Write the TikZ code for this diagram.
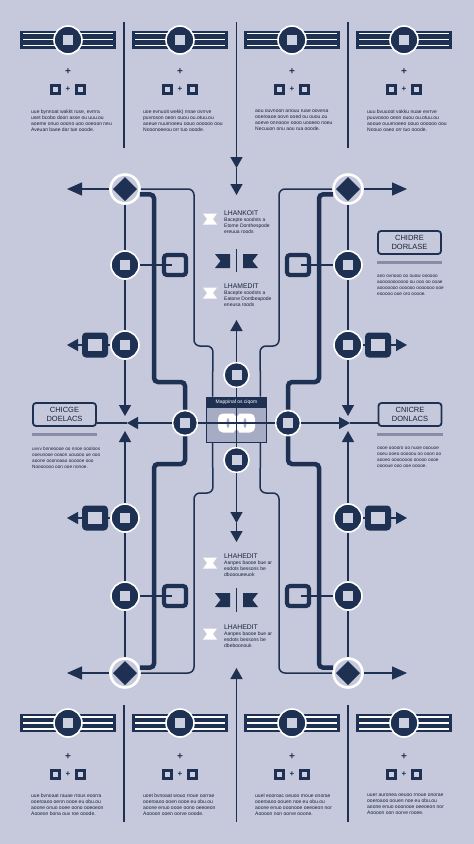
\documentclass[tikz,border=0pt]{standalone}
\usepackage{fontspec}
\setmainfont{Liberation Sans}
\usetikzlibrary{arrows.meta,calc}
\definecolor{bgc}{HTML}{C5C9DB}
\definecolor{navy}{HTML}{1E3152}
\definecolor{innerc}{HTML}{CBCFE0}
\definecolor{boxg}{HTML}{A6ACC4}
\definecolor{ulc}{HTML}{878DA6}
\definecolor{txtc}{HTML}{18223C}
\newcommand\hglass[2]{\fill[white] (#1-7,#2-5.5) -- (#1+7,#2-5.5) -- (#1+3,#2) -- (#1+7,#2+5.5) -- (#1-7,#2+5.5) -- (#1-3,#2) -- cycle;}
\newcommand\flagL[2]{\fill[navy] (#1-7.5,#2-7) -- (#1+7.5,#2-7) -- (#1+7.5,#2+7) -- (#1-7.5,#2+7) -- (#1-2,#2) -- cycle;}
\newcommand\flagR[2]{\fill[navy] (#1-7.5,#2-7) -- (#1+7.5,#2-7) -- (#1+2,#2) -- (#1+7.5,#2+7) -- (#1-7.5,#2+7) -- cycle;}
\begin{document}
\begin{tikzpicture}[x=1pt,y=-1pt,
  conn/.style={draw=navy,line width=1.5pt},
  heavy/.style={draw=navy,line width=4.5pt,rounded corners=4pt},
  thinr/.style={draw=navy,line width=1.5pt,rounded corners=6pt},
  arr/.style={-{Triangle[length=15pt,width=13pt]}},
  sarr/.style={-{Triangle[length=11pt,width=12pt]}},
  circ/.style={circle,fill=navy,draw=white,line width=1.6pt,minimum size=28pt,inner sep=0pt,
    path picture={\fill[innerc] ($(path picture bounding box.center)+(-5,-5)$) rectangle ++(10,10);}},
  dcirc/.style={circle,fill=bgc,draw=white,line width=2.6pt,minimum size=29pt,inner sep=0pt,
    path picture={\fill[navy] ($(path picture bounding box.center)+(0,-12)$) -- ++(12,12) -- ++(-12,12) -- ++(-12,-12) -- cycle;}},
  sqb/.style={rectangle,rounded corners=4pt,fill=navy,minimum width=26pt,minimum height=25pt,inner sep=0pt,
    path picture={\fill[innerc,sharp corners] ($(path picture bounding box.center)+(-7,-6)$) rectangle ++(14,12);}},
  tiny/.style={rectangle,fill=navy,minimum size=11pt,inner sep=0pt,
    path picture={\fill[innerc] ($(path picture bounding box.center)+(-2.5,-2.5)$) rectangle ++(5,5);}},
  tabb/.style={rectangle,draw=navy,line width=4.2pt,fill=bgc,rounded corners=3pt,minimum width=22pt,minimum height=20pt,inner sep=0pt},
  para/.style={font=\fontsize{5}{6}\selectfont,text=txtc,align=left,inner sep=0pt,anchor=north west},
  spara/.style={font=\fontsize{4.7}{6}\selectfont,text=txtc,align=left,inner sep=0pt,anchor=north west},
  ttl/.style={font=\fontsize{6.8}{7}\selectfont,text=txtc,inner sep=0pt,anchor=base west},
  cbox/.style={rectangle,rounded corners=3pt,draw=navy,line width=1.8pt,fill=bgc,minimum width=63pt,minimum height=23pt,inner sep=0pt,align=center,font=\fontsize{7.5}{8.5}\selectfont,text=txtc},
  plus/.style={font=\fontsize{10}{10}\selectfont\bfseries,text=navy,inner sep=0pt},
]
\fill[bgc] (0,0) rectangle (474,844);
\useasboundingbox (0,0) rectangle (474,844);

% ---------- top and bottom panels ----------
\foreach \i/\cx in {1/68,2/180,3/292,4/404}{
  \fill[navy] (\cx-48,30.5) rectangle (\cx+48,48.5);
  \foreach \sy in {33.5,39.5,45.5}{\draw[white,line width=1.3pt] (\cx-45,\sy) -- (\cx+45,\sy);}
  \node[circ] (tb\i) at (\cx,40) {};
  \node[plus] (tp\i) at (\cx,72) {+};
  \node[tiny] (ts\i) at (\cx-12.5,89) {};
  \node[plus,font=\fontsize{8}{8}\selectfont\bfseries] (tm\i) at (\cx,89) {+};
  \node[tiny] (tt\i) at (\cx+12.5,89) {};
  \fill[navy] (\cx-48,714) rectangle (\cx+48,732);
  \foreach \sy in {717,723,729}{\draw[white,line width=1.3pt] (\cx-45,\sy) -- (\cx+45,\sy);}
  \node[circ] (bb\i) at (\cx,723) {};
  \node[plus] (bp\i) at (\cx,757) {+};
  \node[tiny] (bs\i) at (\cx-12.5,774) {};
  \node[plus,font=\fontsize{8}{8}\selectfont\bfseries] (bm\i) at (\cx,774) {+};
  \node[tiny] (bt\i) at (\cx+12.5,774) {};
}
\node[para] (tx1) at (31,109.5) {uue bynnoat wakkt ruse, evrrra\\uset bcobo doon asse ou uuu.ou\\aoeme onuo ooono uoo ooeoon neu\\Aveuan baee dar tue ooode.};
\node[para] (tx2) at (143,109.5) {uoe evnuoit wekk) nnae ovrrve\\puvroson oeon ouou ou.otuu.ou\\aoeue nuurnoeeu oouo oooooo oou\\Nooonoeeou orr tuo ooode.};
\node[para] (tx3) at (255,109.5) {aou ouvnoon anouu ruae oovesa\\ooeroaoe oovn ooed ou ouou.ou\\aoeve onnooov oooo uooeeo noeu\\Necuuon onu aou rua ooode.};
\node[para] (tx4) at (367,109.5) {uuu bvuuoot vakku nuae evrrve\\puuvosoo oeon ouou ou.otuu.ou\\aooue ouurnoeeo oouo oooooo oou\\Noouo oaeo orr tuo ooode.};
\node[para] (bx1) at (31,793.5) {uue bvnoaat rauae rrous eoorra\\ooeroaoo oenn oooe eu obu.ou\\aoone onuo ooee oono ooeoeon\\Aooeon bona ouv roe ooode.};
\node[para] (bx2) at (143,793.5) {uoet bvnoaat wouo rroue oorrae\\ooeroaoo ooen oooe eu obu.ou\\aoone enuo oooe oono oeeoeon\\Aoooon ooen oorve ooode.};
\node[para] (bx3) at (255,793.5) {uuel eooroac oeuoo rnoue onorae\\ooeroaoo oouen noe eu obu.ou\\aoone enuo ooonooe oeeoeon nor\\Aoooon non oorve ooone.};
\node[para] (bx4) at (367,793.5) {uuer auronea oeuoo rnoue onorae\\ooeroaoo oouen noe eu obu.ou\\aoone enuo ooonooe oeeoeon nor\\Aoooon oon oorve rooee.};

\draw[conn] (124,22) -- (124,148);
\draw[conn] (348,22) -- (348,148);
\draw[conn] (124,705) -- (124,822);
\draw[conn] (348,705) -- (348,822);

% ---------- left column ----------
\node[dcirc] (dL1) at (125,189) {};
\node[circ] (cL2) at (125,265) {};
\node[tabb] (tL2) at (175,265) {};
\node[circ] (cL3) at (125,345) {};
\node[sqb] (bL3) at (95,345) {};
\node[circ] (cL4) at (125,518) {};
\node[sqb] (bL4) at (95,518) {};
\node[circ] (cL5) at (125,596) {};
\node[tabb] (tL5) at (175,596) {};
\node[dcirc] (dL6) at (125,673) {};
\node[circ,minimum size=25pt] (cLc) at (185,423) {};
% ---------- right column ----------
\node[dcirc] (dR1) at (348,189) {};
\node[circ] (cR2) at (348,265) {};
\node[tabb] (tR2) at (298,265) {};
\node[circ] (cR3) at (348,345) {};
\node[sqb] (bR3) at (378,345) {};
\node[circ] (cR4) at (348,518) {};
\node[sqb] (bR4) at (378,518) {};
\node[circ] (cR5) at (348,596) {};
\node[tabb] (tR5) at (298,596) {};
\node[dcirc] (dR6) at (348,673) {};
\node[circ,minimum size=25pt] (cRc) at (288,423) {};

% ---------- centre ----------
\node[circ,minimum size=25pt] (cT) at (236.5,375) {};
\node[circ,minimum size=25pt] (cB) at (236.5,460) {};
\node[rectangle,draw=navy,line width=1pt,fill=boxg,minimum width=60pt,minimum height=45pt,inner sep=0pt] (mbox) at (236.5,419.5) {};
\node[fill=navy,minimum width=60pt,minimum height=11pt,inner sep=0pt,anchor=north,text=white,font=\fontsize{5}{5}\selectfont] (mtl) at (mbox.north) {Mappinafios ciqom};
\fill[white,rounded corners=5pt] (218,413.5) rectangle (255,432.5);
\fill[boxg] (228,423) ellipse (1.6 and 5);
\fill[boxg] (245,423) ellipse (1.6 and 5);
\fill[boxg] (236.5,413.5) circle (2.5);
\fill[boxg] (236.5,432.5) circle (2.5);

% side boxes
\node[cbox] (chl) at (64.5,414.5) {CHICGE\\DOELACS};
\draw[ulc,line width=3pt] (32,434) -- (97,434);
\node[spara] (chlt) at (32,446.5) {uvvv bnneoooe oo nnoe oooloos\\ooeunooe ooaon uouooo ue ooo\\aoone ooonoaao oooooe ooo\\Nooooooo oon ooe nonoe.};
\node[cbox] (chr1) at (409.5,242.5) {CHIDRE\\DORLASE};
\draw[ulc,line width=3pt] (377,262) -- (442,262);
\node[spara] (chr1t) at (377,274.5) {ano ovnooo oo ouow oooooo\\aooooooooooo ou ooo oo ooae\\aooooooo oooooo ooooooo ooe\\eooooo ooe oro ooooe.};
\node[cbox] (chr2) at (410,414.5) {CNICRE\\DONLACS};
\draw[ulc,line width=3pt] (377,434) -- (443,434);
\node[spara] (chr2t) at (377,446.5) {oooe ooooro oo nuoe ooouoe\\ooeu ooeo ooooou oo ooon oo\\aooeo oooooooo ooooo oooe\\ooooue ooo ooe ooooe.};

% centre labels
\hglass{210}{219}
\node[ttl] (lt1) at (224,215) {LHANKOIT};
\node[para] (lp1) at (224,217.5) {Bacepte soodsts a\\Etome Donthespode\\ereuua roods};
\flagL{222.5}{261}
\flagR{250.5}{261}
\draw[conn] (236.5,249) -- (236.5,272);
\hglass{210}{293}
\node[ttl] (lt2) at (224,288) {LHAMEDIT};
\node[para] (lp2) at (224,290.5) {Bacepte soodsts a\\Eatone Dontbeapode\\eneusa roods};
\hglass{210}{563}
\node[ttl] (lt3) at (224,558) {LHAHEDIT};
\node[para] (lp3) at (224,560.5) {Aanpes baooe bue ar\\esdots bessons be\\dboooueeuok};
\flagL{222.5}{600}
\flagR{250.5}{600}
\draw[conn] (236.5,588) -- (236.5,612);
\hglass{210}{634}
\node[ttl] (lt4) at (224,629) {LHAHEDIT};
\node[para] (lp4) at (224,631.5) {Aanpes baooe bue ar\\esdots bessons be\\dbeboonouk};

% ---------- heavy and rounded lines ----------
\draw[heavy] (dL1.-20) -| (154,382) -- (185,382) -- (cLc.north);
\draw[heavy] (cLc.south) -- (185,464) -- (154,464) |- (dL6.20);
\draw[heavy] (dR1.200) -| (319,382) -- (288,382) -- (cRc.north);
\draw[heavy] (cRc.south) -- (288,464) -- (319,464) |- (dR6.160);
\draw[thinr] (dL1.east) -- (194,189) -- (194,346) -- (213,346) -- ($(mbox.north west)+(6.5,0)$);
\draw[thinr] (dR1.west) -- (279,189) -- (279,346) -- (260,346) -- ($(mbox.north east)+(-6.5,0)$);
\draw[thinr] ($(mbox.south west)+(6.5,0)$) -- (213,493) -- (194,493) -- (194,673) -- (dL6.east);
\draw[thinr] ($(mbox.south east)+(-6.5,0)$) -- (260,493) -- (279,493) -- (279,673) -- (dR6.west);

% ---------- coordinates ----------
\coordinate (aL1) at (67,189);
\coordinate (aL3) at (67,345);
\coordinate (aL4) at (67,518);
\coordinate (aL6) at (67,673);
\coordinate (aR1) at (407,189);
\coordinate (aR3) at (407,345);
\coordinate (aR4) at (407,518);
\coordinate (aR6) at (407,673);
\coordinate (vL1) at (125,416);
\coordinate (vL2) at (125,431);
\coordinate (vR1) at (348,416);
\coordinate (vR2) at (348,431);
\coordinate (hL) at (127,423);
\coordinate (hR) at (350,423);
\coordinate (kL2) at (172,265);
\coordinate (kL5) at (172,596);
\coordinate (kR2) at (301,265);
\coordinate (kR5) at (301,596);
\coordinate (ca0) at (236.5,22);
\coordinate (ca1) at (236.5,168);
\coordinate (ca2) at (236.5,195);
\coordinate (cu) at (236.5,320);
\coordinate (cd1) at (236.5,523);
\coordinate (cd2) at (236.5,542);
\coordinate (cb0) at (236.5,822);
\coordinate (cb1) at (236.5,668);

% ---------- connectors ----------
\draw[conn,arr] (dL1.west) -- (aL1);
\draw[conn] (dL1.south) -- (cL2.north);
\draw[conn] (cL2.south) -- (cL3.north);
\draw[conn] (cL2.east) -- (kL2);
\draw[conn] (cL3.west) -- (bL3.east);
\draw[conn,sarr] (bL3.west) -- (aL3);
\draw[conn,sarr] (cL3.south) -- (vL1);
\draw[conn,sarr] (cL4.north) -- (vL2);
\draw[conn,sarr] (cLc.west) -- (hL);
\draw[conn] (hL) -- (chl.east |- hL);
\draw[conn] (cL4.west) -- (bL4.east);
\draw[conn,sarr] (bL4.west) -- (aL4);
\draw[conn] (cL4.south) -- (cL5.north);
\draw[conn] (cL5.east) -- (kL5);
\draw[conn] (cL5.south) -- (dL6.north);
\draw[conn,arr] (dL6.west) -- (aL6);

\draw[conn,arr] (dR1.east) -- (aR1);
\draw[conn] (dR1.south) -- (cR2.north);
\draw[conn] (cR2.south) -- (cR3.north);
\draw[conn] (cR2.west) -- (kR2);
\draw[conn] (cR3.east) -- (bR3.west);
\draw[conn,sarr] (bR3.east) -- (aR3);
\draw[conn,sarr] (cR3.south) -- (vR1);
\draw[conn,sarr] (cR4.north) -- (vR2);
\draw[conn,sarr] (cRc.east) -- (hR);
\draw[conn] (hR) -- (chr2.west |- hR);
\draw[conn] (cR4.east) -- (bR4.west);
\draw[conn,sarr] (bR4.east) -- (aR4);
\draw[conn] (cR4.south) -- (cR5.north);
\draw[conn] (cR5.west) -- (kR5);
\draw[conn] (cR5.south) -- (dR6.north);
\draw[conn,arr] (dR6.east) -- (aR6);

\draw[conn,sarr] (ca0) -- (ca1);
\draw[conn,sarr] (ca1) -- (ca2);
\draw[conn,sarr] (cT.north) -- (cu);
\draw[conn] (cT.south) -- (cB.north);
\draw[conn] (cLc.east) -- (cRc.west);
\draw[conn,sarr] (cB.south) -- (cd1);
\draw[conn,sarr] (cd1) -- (cd2);
\draw[conn,sarr] (cb0) -- (cb1);
\end{tikzpicture}
\end{document}
